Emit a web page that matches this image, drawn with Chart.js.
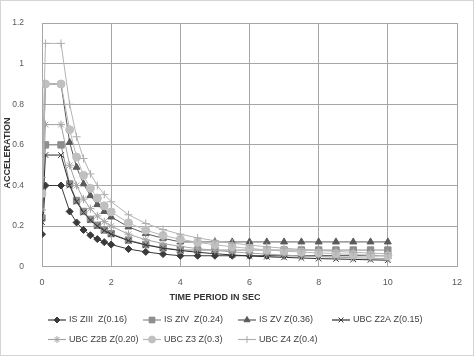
<!DOCTYPE html>
<html><head><meta charset="utf-8">
<script src="https://cdn.jsdelivr.net/npm/chart.js@4.4.1/dist/chart.umd.min.js"></script>
<style>html,body{margin:0;padding:0;background:#fff}canvas{display:block}</style>
</head><body>
<canvas id="c" width="474" height="356"></canvas>
<script>
// Time period (s)
const periods = [0, 0.1, 0.55, 0.8, 1.0, 1.2, 1.4, 1.6, 1.8, 2.0, 2.5, 3.0, 3.5, 4.0, 4.5, 5.0, 5.5, 6.0, 6.5, 7.0, 7.5, 8.0, 8.5, 9.0, 9.5, 10.0];
// Acceleration series
const isZIII = [0.16, 0.40, 0.40, 0.272, 0.218, 0.181, 0.155, 0.136, 0.121, 0.109, 0.087, 0.073, 0.062, 0.054, 0.054, 0.054, 0.054, 0.054, 0.054, 0.054, 0.054, 0.054, 0.054, 0.054, 0.054, 0.054];
const isZIV = [0.24, 0.60, 0.60, 0.408, 0.326, 0.272, 0.233, 0.204, 0.181, 0.163, 0.131, 0.109, 0.093, 0.082, 0.082, 0.082, 0.082, 0.082, 0.082, 0.082, 0.082, 0.082, 0.082, 0.082, 0.082, 0.082];
const isZV = [0.36, 0.90, 0.90, 0.612, 0.490, 0.408, 0.350, 0.306, 0.272, 0.245, 0.196, 0.163, 0.140, 0.122, 0.122, 0.122, 0.122, 0.122, 0.122, 0.122, 0.122, 0.122, 0.122, 0.122, 0.122, 0.122];
const ubcZ2A = [0.22, 0.55, 0.55, 0.400, 0.320, 0.267, 0.229, 0.200, 0.178, 0.160, 0.128, 0.107, 0.091, 0.080, 0.071, 0.064, 0.058, 0.053, 0.049, 0.046, 0.043, 0.040, 0.038, 0.036, 0.034, 0.032];
const ubcZ2B = [0.28, 0.70, 0.70, 0.500, 0.400, 0.333, 0.286, 0.250, 0.222, 0.200, 0.160, 0.133, 0.114, 0.100, 0.089, 0.080, 0.073, 0.067, 0.062, 0.057, 0.053, 0.050, 0.047, 0.044, 0.042, 0.040];
const ubcZ3 = [0.36, 0.90, 0.90, 0.675, 0.540, 0.450, 0.386, 0.338, 0.300, 0.270, 0.216, 0.180, 0.154, 0.135, 0.120, 0.108, 0.098, 0.090, 0.083, 0.077, 0.072, 0.068, 0.064, 0.060, 0.057, 0.054];
const ubcZ4 = [0.44, 1.10, 1.10, 0.800, 0.640, 0.533, 0.457, 0.400, 0.356, 0.320, 0.256, 0.213, 0.183, 0.160, 0.142, 0.128, 0.116, 0.107, 0.098, 0.091, 0.085, 0.080, 0.075, 0.071, 0.067, 0.064];
const seriesNames = ['IS ZIII  Z(0.16)', 'IS ZIV  Z(0.24)', 'IS ZV Z(0.36)', 'UBC Z2A Z(0.15)', 'UBC Z2B Z(0.20)', 'UBC Z3 Z(0.3)', 'UBC Z4 Z(0.4)'];
const xTitle = 'TIME PERIOD IN SEC';
const yTitle = 'ACCELERATION';

const seriesValues = [isZIII, isZIV, isZV, ubcZ2A, ubcZ2B, ubcZ3, ubcZ4];
const styles = [
  {line:'#3a3a3a', fill:'#3a3a3a', stroke:'#3a3a3a', shape:'rectRot', r:3.5},
  {line:'#8a8a8a', fill:'#8f8f8f', stroke:'#8a8a8a', shape:'rect', r:4.5},
  {line:'#5a5a5a', fill:'#5a5a5a', stroke:'#5a5a5a', shape:'triangle', r:4},
  {line:'#2e2e2e', fill:'#2e2e2e', stroke:'#3a3a3a', shape:'crossRot', r:4},
  {line:'#a3a3a3', fill:'#a3a3a3', stroke:'#a3a3a3', shape:'star', r:4},
  {line:'#b8b8b8', fill:'#c0c0c0', stroke:'#c0c0c0', shape:'circle', r:4},
  {line:'#b3b3b3', fill:'#adadad', stroke:'#adadad', shape:'cross', r:4}
];

const datasets = seriesValues.map((vals, i) => ({
  label: seriesNames[i],
  data: vals.map((v, j) => ({x: periods[j], y: v})),
  borderColor: styles[i].line,
  backgroundColor: styles[i].fill,
  pointBackgroundColor: styles[i].fill,
  pointBorderColor: styles[i].stroke,
  pointStyle: styles[i].shape,
  pointRadius: styles[i].r,
  pointBorderWidth: 1,
  borderWidth: 1,
  tension: 0,
  fill: false,
  order: -i
}));

const FONT = 'Liberation Sans';
const deco = {
  id: 'deco',
  beforeDraw(chart) {
    const ctx = chart.ctx;
    ctx.save();
    ctx.fillStyle = '#fff';
    ctx.fillRect(0, 0, chart.width, chart.height);
    ctx.strokeStyle = '#d4d4d4';
    ctx.lineWidth = 1;
    ctx.strokeRect(0.5, 0.5, chart.width - 1, chart.height - 1);
    ctx.restore();
  },
  afterDraw(chart) {
    const ctx = chart.ctx;
    ctx.save();
    ctx.fillStyle = '#333';
    ctx.font = 'bold 9px ' + FONT;
    ctx.textAlign = 'center';
    ctx.textBaseline = 'middle';
    ctx.fillText(xTitle, 215, 298);
    ctx.save();
    ctx.translate(8, 153);
    ctx.rotate(-Math.PI / 2);
    ctx.fillText(yTitle, 0, 0);
    ctx.restore();
    const cols = [48, 143, 238, 332];
    const rows = [320, 339.5];
    chart.data.datasets.forEach((ds, i) => {
      const x0 = cols[i < 4 ? i : i - 4];
      const y = rows[i < 4 ? 0 : 1];
      ctx.strokeStyle = ds.borderColor;
      ctx.lineWidth = 1.2;
      ctx.beginPath(); ctx.moveTo(x0, y); ctx.lineTo(x0 + 18, y); ctx.stroke();
      ctx.fillStyle = ds.pointBackgroundColor;
      ctx.strokeStyle = ds.pointBorderColor;
      ctx.lineWidth = 1;
      Chart.helpers.drawPoint(ctx, {pointStyle: ds.pointStyle, radius: ds.pointRadius - 0.5, rotation: 0, borderWidth: 1}, x0 + 9, y);
      ctx.fillStyle = '#404040';
      ctx.font = '9px ' + FONT;
      ctx.textAlign = 'left';
      ctx.textBaseline = 'middle';
      ctx.fillText(ds.label, x0 + 21, y);
    });
    ctx.restore();
  }
};

new Chart(document.getElementById('c'), {
  type: 'line',
  data: {datasets},
  plugins: [deco],
  options: {
    responsive: false,
    animation: false,
    devicePixelRatio: 1,
    layout: {padding: {top: 9, right: 17, left: 0, bottom: 0}},
    plugins: {legend: {display: false}, tooltip: {enabled: false}},
    scales: {
      x: {
        type: 'linear', min: 0, max: 12,
        ticks: {stepSize: 2, color: '#595959', font: {family: FONT, size: 9}, padding: 10, maxRotation: 0},
        grid: {color: '#a6a6a6', drawTicks: false, lineWidth: 1},
        border: {color: '#a6a6a6'},
        afterFit(s) { s.height = 89.3; }
      },
      y: {
        type: 'linear', min: 0, max: 1.2,
        ticks: {stepSize: 0.2, color: '#595959', font: {family: FONT, size: 8.5}, padding: 18,
          callback: v => String(Math.round(v * 10) / 10)},
        grid: {color: '#a6a6a6', drawTicks: false, lineWidth: 1},
        border: {color: '#a6a6a6'},
        afterFit(s) { s.width = 42; }
      }
    }
  }
});
</script>
</body></html>
